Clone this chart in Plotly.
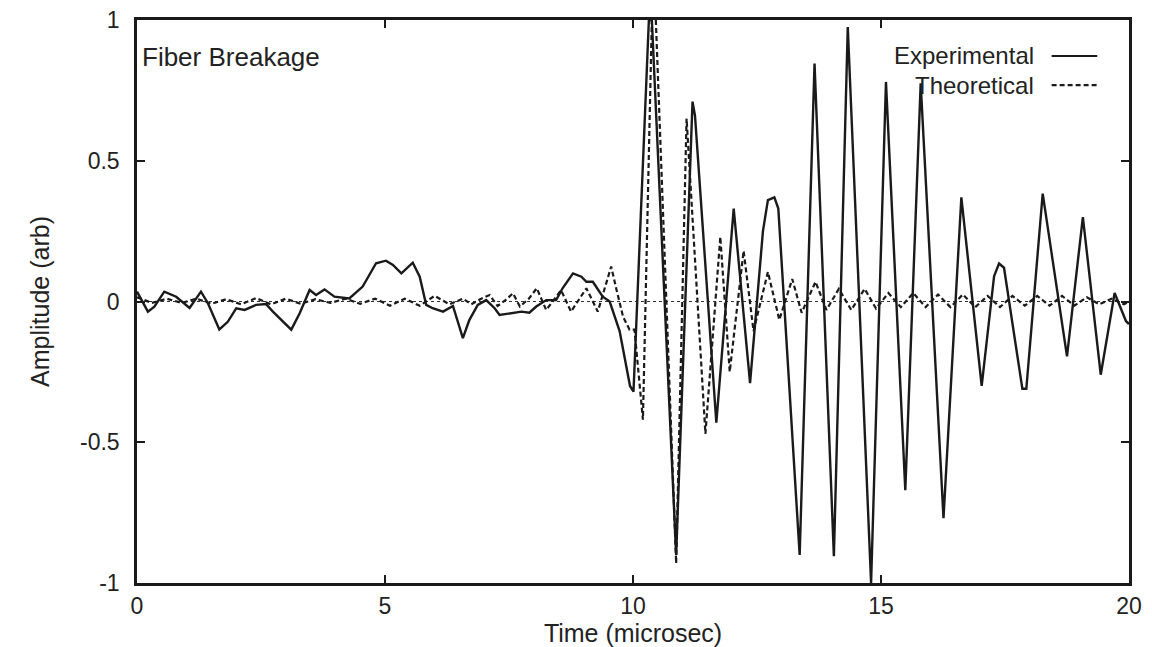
import plotly.graph_objects as go

# ---- data ----
exp_t = [0.0, 0.22, 0.35, 0.55, 0.79, 1.06, 1.29, 1.43, 1.66, 1.83, 2.0, 2.17, 2.40, 2.60, 2.74,
         2.94, 3.11, 3.28, 3.48, 3.61, 3.78, 3.98, 4.28, 4.55, 4.82, 5.02, 5.16, 5.33, 5.56, 5.70,
         5.83, 5.96, 6.17, 6.37, 6.57, 6.70, 6.87, 7.04, 7.21, 7.31, 7.54, 7.75, 7.91, 8.05, 8.25,
         8.45, 8.58, 8.79, 8.96, 9.06, 9.19, 9.39, 9.53, 9.73, 9.94, 10.01, 10.32, 10.38, 10.87,
         11.20, 11.25, 11.68, 12.03, 12.36, 12.62, 12.72, 12.85, 12.93, 13.36, 13.66, 14.05, 14.33,
         14.80, 15.10, 15.49, 15.80, 16.26, 16.62, 17.03, 17.28, 17.38, 17.48, 17.85, 17.93, 18.26,
         18.75, 19.07, 19.43, 19.71, 19.94, 20.0]
exp_y = [0.035, -0.036, -0.018, 0.035, 0.017, -0.023, 0.035, -0.006, -0.099, -0.072, -0.024, -0.03,
         -0.012, -0.009, -0.036, -0.072, -0.10, -0.042, 0.041, 0.023, 0.043, 0.017, 0.011, 0.053,
         0.136, 0.145, 0.13, 0.10, 0.138, 0.088, -0.012, -0.024, -0.036, -0.016, -0.13, -0.066,
         -0.012, 0.005, -0.024, -0.048, -0.042, -0.036, -0.04, -0.018, 0.005, 0.005, 0.047, 0.10,
         0.088, 0.07, 0.07, 0.017, 0.0, -0.105, -0.30, -0.32, 1.0, 1.0, -0.90, 0.71, 0.66, -0.43,
         0.33, -0.29, 0.25, 0.36, 0.37, 0.33, -0.90, 0.845, -0.905, 0.975, -1.0, 0.78, -0.67, 0.775,
         -0.77, 0.37, -0.30, 0.09, 0.135, 0.12, -0.31, -0.31, 0.383, -0.195, 0.30, -0.26, 0.03,
         -0.07, -0.08]

theo_t = [0.0, 0.3, 0.6, 0.9, 1.2, 1.5, 1.8, 2.1, 2.4, 2.7, 3.0, 3.3, 3.6, 3.9, 4.2, 4.5, 4.8,
          5.1, 5.4, 5.7, 6.0, 6.3, 6.57, 6.74, 6.94, 7.11, 7.27, 7.43, 7.58, 7.72, 7.90, 8.06,
          8.25, 8.55, 8.75, 9.06, 9.29, 9.56, 9.67, 9.80, 9.93, 10.03, 10.20, 10.38, 10.46, 10.87,
          11.08, 11.46, 11.76, 11.95, 12.23, 12.43, 12.72, 12.95, 13.21, 13.40, 13.68, 13.90,
          14.15, 14.40, 14.67, 14.90, 15.15, 15.40, 15.65, 15.90, 16.15, 16.40, 16.65, 16.90,
          17.15, 17.40, 17.65, 17.90, 18.15, 18.40, 18.65, 18.90, 19.15, 19.40, 19.65, 19.90, 20.0]
theo_y = [0.015, -0.005, 0.01, -0.005, 0.01, -0.008, 0.008, -0.01, 0.012, -0.01, 0.01, -0.008,
          0.008, -0.005, 0.01, -0.008, 0.01, -0.015, 0.01, -0.015, 0.02, -0.01, 0.01, -0.01, 0.01,
          0.023, -0.016, 0.005, 0.029, -0.018, 0.01, 0.047, -0.03, 0.04, -0.036, 0.047, -0.036,
          0.124, 0.04, -0.054, -0.10, -0.10, -0.42, 1.0, 1.0, -0.93, 0.65, -0.47, 0.23, -0.25,
          0.18, -0.105, 0.105, -0.065, 0.08, -0.04, 0.07, -0.03, 0.045, -0.03, 0.045, -0.025,
          0.03, -0.02, 0.03, -0.02, 0.025, -0.02, 0.025, -0.02, 0.02, -0.02, 0.02, -0.015, 0.02,
          -0.015, 0.02, -0.015, 0.015, -0.01, 0.01, -0.01, 0.0]

x_ticks = [0, 5, 10, 15, 20]
y_ticks = [-1, -0.5, 0, 0.5, 1]
y_ticklabels = ["-1", "-0.5", "0", "0.5", "1"]
series_names = ["Experimental", "Theoretical"]

FONT = "Liberation Sans, Arial, Helvetica, sans-serif"
INK = "#1a1a1a"
TXT = "#222"
DASH = "5px,3px"

fig = go.Figure()
fig.add_trace(go.Scatter(x=exp_t, y=exp_y, mode="lines", name=series_names[0],
                         line=dict(color=INK, width=2.4)))
fig.add_trace(go.Scatter(x=theo_t, y=theo_y, mode="lines", name=series_names[1],
                         line=dict(color=INK, width=2.2, dash=DASH)))

axis_common = dict(showline=True, linecolor=INK, linewidth=2.5, mirror="ticks",
                   ticks="inside", ticklen=8, tickwidth=2, tickcolor=INK,
                   showgrid=False, zeroline=False,
                   tickfont=dict(family=FONT, size=23, color=TXT))

fig.update_xaxes(range=[0, 20], tickvals=x_ticks, ticklabelstandoff=1,
                 title=dict(text="Time (microsec)", standoff=0,
                            font=dict(family=FONT, size=25, color=TXT)),
                 **axis_common)
fig.update_yaxes(range=[-1, 1], tickvals=y_ticks, ticktext=y_ticklabels, ticklabelstandoff=10,
                 title=dict(text="Amplitude (arb)", standoff=24,
                            font=dict(family=FONT, size=25, color=TXT)),
                 **axis_common)

# dotted zero axis
fig.add_shape(type="line", xref="x", yref="y", x0=0, x1=20, y0=0, y1=0,
              line=dict(color="#333", width=1, dash="dot"), layer="below")

# panel label
fig.add_annotation(text="Fiber Breakage", xref="paper", yref="paper", x=0.003, y=0.934,
                   xanchor="left", yanchor="middle", showarrow=False,
                   font=dict(family=FONT, size=26, color=TXT))

# gnuplot-style key: text right-aligned, sample line to its right
key_rows = [(0.9361, "solid"), (0.8845, DASH)]
for name, (ky, dash) in zip(series_names, key_rows):
    fig.add_annotation(text=name, xref="paper", yref="paper", x=0.905, y=ky,
                       xanchor="right", yanchor="middle", showarrow=False, borderpad=0,
                       font=dict(family=FONT, size=24, color=TXT))
    fig.add_shape(type="line", xref="paper", yref="paper", x0=0.922, x1=0.968, y0=ky, y1=ky,
                  line=dict(color=INK, width=2.2, dash=dash))

fig.update_layout(width=1152, height=647, showlegend=False,
                  paper_bgcolor="white", plot_bgcolor="white",
                  margin=dict(l=137, r=23, t=20, b=64, autoexpand=False))

fig.write_html("out.html")
